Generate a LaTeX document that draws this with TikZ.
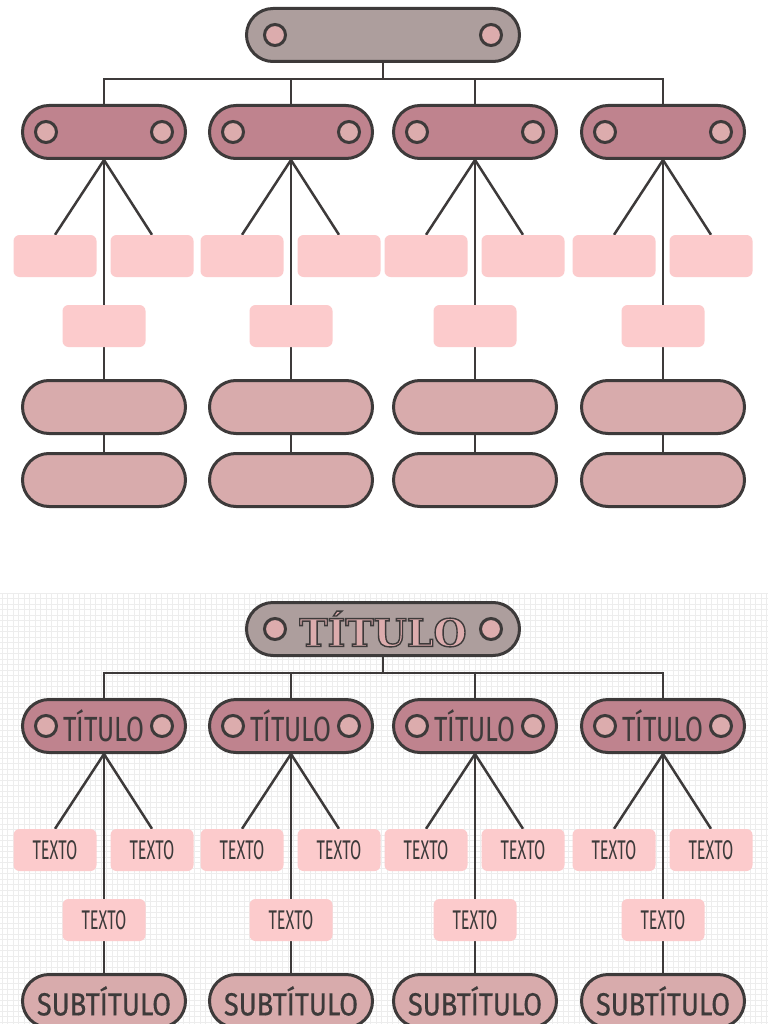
\documentclass[tikz,border=0pt]{standalone}
\usepackage{fontspec}
\setmainfont{Fira Sans}
\newfontfamily\headfont{DejaVu Serif}
\newfontfamily\labelfont[FakeStretch=0.74]{Fira Sans}
\newfontfamily\boxfont[FakeStretch=0.6]{Fira Sans}
\newfontfamily\subfont[FakeStretch=0.85,FakeBold=0.5]{Fira Sans}
\usetikzlibrary{positioning, shapes.misc, calc, backgrounds}

\definecolor{ink}{HTML}{3D3A3A}
\definecolor{headfill}{HTML}{AD9E9D}
\definecolor{mauve}{HTML}{BF838E}
\definecolor{dot}{HTML}{DCACAD}
\definecolor{rose}{HTML}{D8ABAC}
\definecolor{blush}{HTML}{FCCBCC}
\definecolor{gridgray}{HTML}{EDEDED}

\pgfdeclarelayer{paper}
\pgfsetlayers{paper,background,main}

% outlined letters: fill and stroke the glyphs
\newcommand{\outlined}[1]{\special{pdf:literal direct 2 Tr 1.4 w 0.239 0.227 0.227 RG}#1\special{pdf:literal direct 0 Tr}}

\tikzset{
  pill/.style={rounded rectangle, draw=ink, line width=3pt, inner sep=0pt, minimum height=53pt},
  headpill/.style={pill, fill=headfill, minimum width=273pt},
  catpill/.style={pill, fill=mauve, minimum width=163pt, text=ink, font=\labelfont\fontsize{35}{36}\selectfont},
  subpill/.style={pill, fill=rose, minimum width=163pt, text=ink, font=\subfont\fontsize{32}{34}\selectfont},
  notebox/.style={rectangle, rounded corners=6pt, fill=blush, minimum width=83pt, minimum height=42pt, inner sep=0pt, text=ink, font=\boxfont\fontsize{27}{28}\selectfont},
  knob/.style={circle, draw=ink, line width=3pt, fill=dot, minimum size=21pt, inner sep=0pt},
  headtext/.style={inner sep=0pt, text=dot, font=\headfont\bfseries\fontsize{38}{40}\selectfont},
  link/.style={draw=ink, line width=2.5pt},
  gridline/.style={draw=gridgray, line width=0.6pt}
}

\begin{document}
\begin{tikzpicture}[x=1pt, y=-1pt]
\useasboundingbox (0,0) rectangle (768,1024);
\clip (0,0) rectangle (768,1024);

% grid paper behind the filled version
\begin{pgfonlayer}{paper}
\fill[white] (0,0) rectangle (768,1024);
\foreach \gx in {2,7.5,...,768} \draw[gridline] (\gx,593) -- (\gx,1024);
\foreach \gy in {593,598.5,...,1024} \draw[gridline] (0,\gy) -- (768,\gy);
\end{pgfonlayer}

% blank template (a) and filled version (b)
\foreach \p/\dy/\tcat/\tnote/\tsub in {a/0/{}/{}/{}, b/594/TÍTULO/TEXTO/SUBTÍTULO}{
  % head
  \node[headpill] (head-\p) at (383,\dy+35) {};
  \node[knob] (hl-\p) at (275,\dy+35) {};
  \node[knob] (hr-\p) at (491,\dy+35) {};
  \coordinate (bus-\p) at (383,\dy+79);

  % columns
  \foreach \c/\cx in {1/104,2/291,3/475,4/663}{
    \node[catpill] (cat-\p\c) at (\cx,\dy+132) {\tcat};
    \node[knob] (kl-\p\c) at (\cx-58,\dy+132) {};
    \node[knob] (kr-\p\c) at (\cx+58,\dy+132) {};
    \node[notebox] (nl-\p\c) at (\cx-49,\dy+256) {\tnote};
    \node[notebox] (nr-\p\c) at (\cx+48,\dy+256) {\tnote};
    \node[notebox] (nm-\p\c) at (\cx,\dy+326) {\tnote};
    \node[subpill] (sa-\p\c) at (\cx,\dy+407) {\tsub};
    \begin{scope}[on background layer]
      \draw[link] (cat-\p\c.south) -- (nl-\p\c.north);
      \draw[link] (cat-\p\c.south) -- (nr-\p\c.north);
      \draw[link] (cat-\p\c.south) -- (sa-\p\c.north);
    \end{scope}
  }

  % bus from head to columns
  \begin{scope}[on background layer]
    \draw[link] (head-\p.south) -- (bus-\p);
    \draw[link] (cat-\p1.north) |- (bus-\p) -| (cat-\p4.north);
    \draw[link] (cat-\p2.north) -- (cat-\p2.north |- bus-\p);
    \draw[link] (cat-\p3.north) -- (cat-\p3.north |- bus-\p);
  \end{scope}
}

% last row of the blank template
\foreach \c/\cx in {1/104,2/291,3/475,4/663}{
  \node[subpill] (sb-a\c) at (\cx,480) {};
  \begin{scope}[on background layer]
    \draw[link] (sa-a\c.south) -- (sb-a\c.north);
  \end{scope}
}

% outlined head title
\node[headtext] (htitle) at (head-b.center) {\outlined{TÍTULO}};
\end{tikzpicture}
\end{document}
